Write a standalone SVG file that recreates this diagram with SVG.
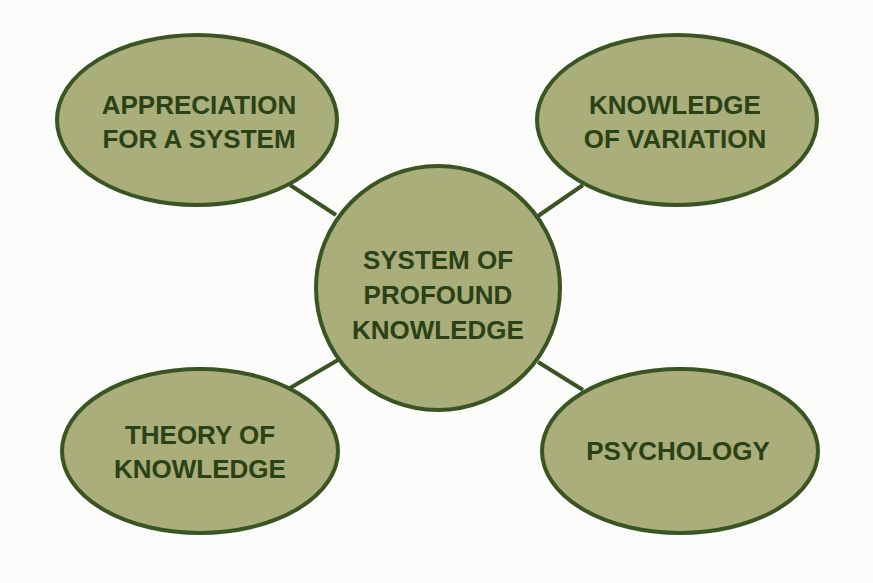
<svg xmlns="http://www.w3.org/2000/svg" width="873" height="583" viewBox="0 0 873 583">
<style>
.n{fill:#a9ae7a;stroke:#3b5424;stroke-width:4}
.t{font-family:"Liberation Sans",Arial,sans-serif;font-weight:bold;font-size:26px;fill:#2b4216;text-anchor:middle}
.c{stroke:#3b5424;stroke-width:4}
</style>
<rect width="873" height="583" fill="#fcfcfa"/>
<g id="connectors">
<line class="c" x1="290" y1="185" x2="336" y2="215"/>
<line class="c" x1="538" y1="216" x2="583" y2="185"/>
<line class="c" x1="290" y1="388" x2="338" y2="360"/>
<line class="c" x1="538" y1="362" x2="583" y2="390"/>
</g>
<g id="center"><circle class="n" cx="438" cy="288" r="122"/>
<text class="t" x="438" y="269" font-size="28">SYSTEM OF</text>
<text class="t" x="438" y="304" font-size="28">PROFOUND</text>
<text class="t" x="438" y="339" font-size="28">KNOWLEDGE</text></g>
<g id="appreciation"><ellipse class="n" cx="197" cy="120" rx="140" ry="85"/>
<text class="t" x="199" y="114">APPRECIATION</text>
<text class="t" x="199" y="148">FOR A SYSTEM</text></g>
<g id="variation"><ellipse class="n" cx="677" cy="120" rx="140" ry="85"/>
<text class="t" x="675" y="114">KNOWLEDGE</text>
<text class="t" x="675" y="148">OF VARIATION</text></g>
<g id="theory"><ellipse class="n" cx="200" cy="451" rx="138" ry="82"/>
<text class="t" x="200" y="444">THEORY OF</text>
<text class="t" x="200" y="478">KNOWLEDGE</text></g>
<g id="psychology"><ellipse class="n" cx="680" cy="451" rx="138" ry="82"/>
<text class="t" x="678" y="460">PSYCHOLOGY</text></g>
</svg>
